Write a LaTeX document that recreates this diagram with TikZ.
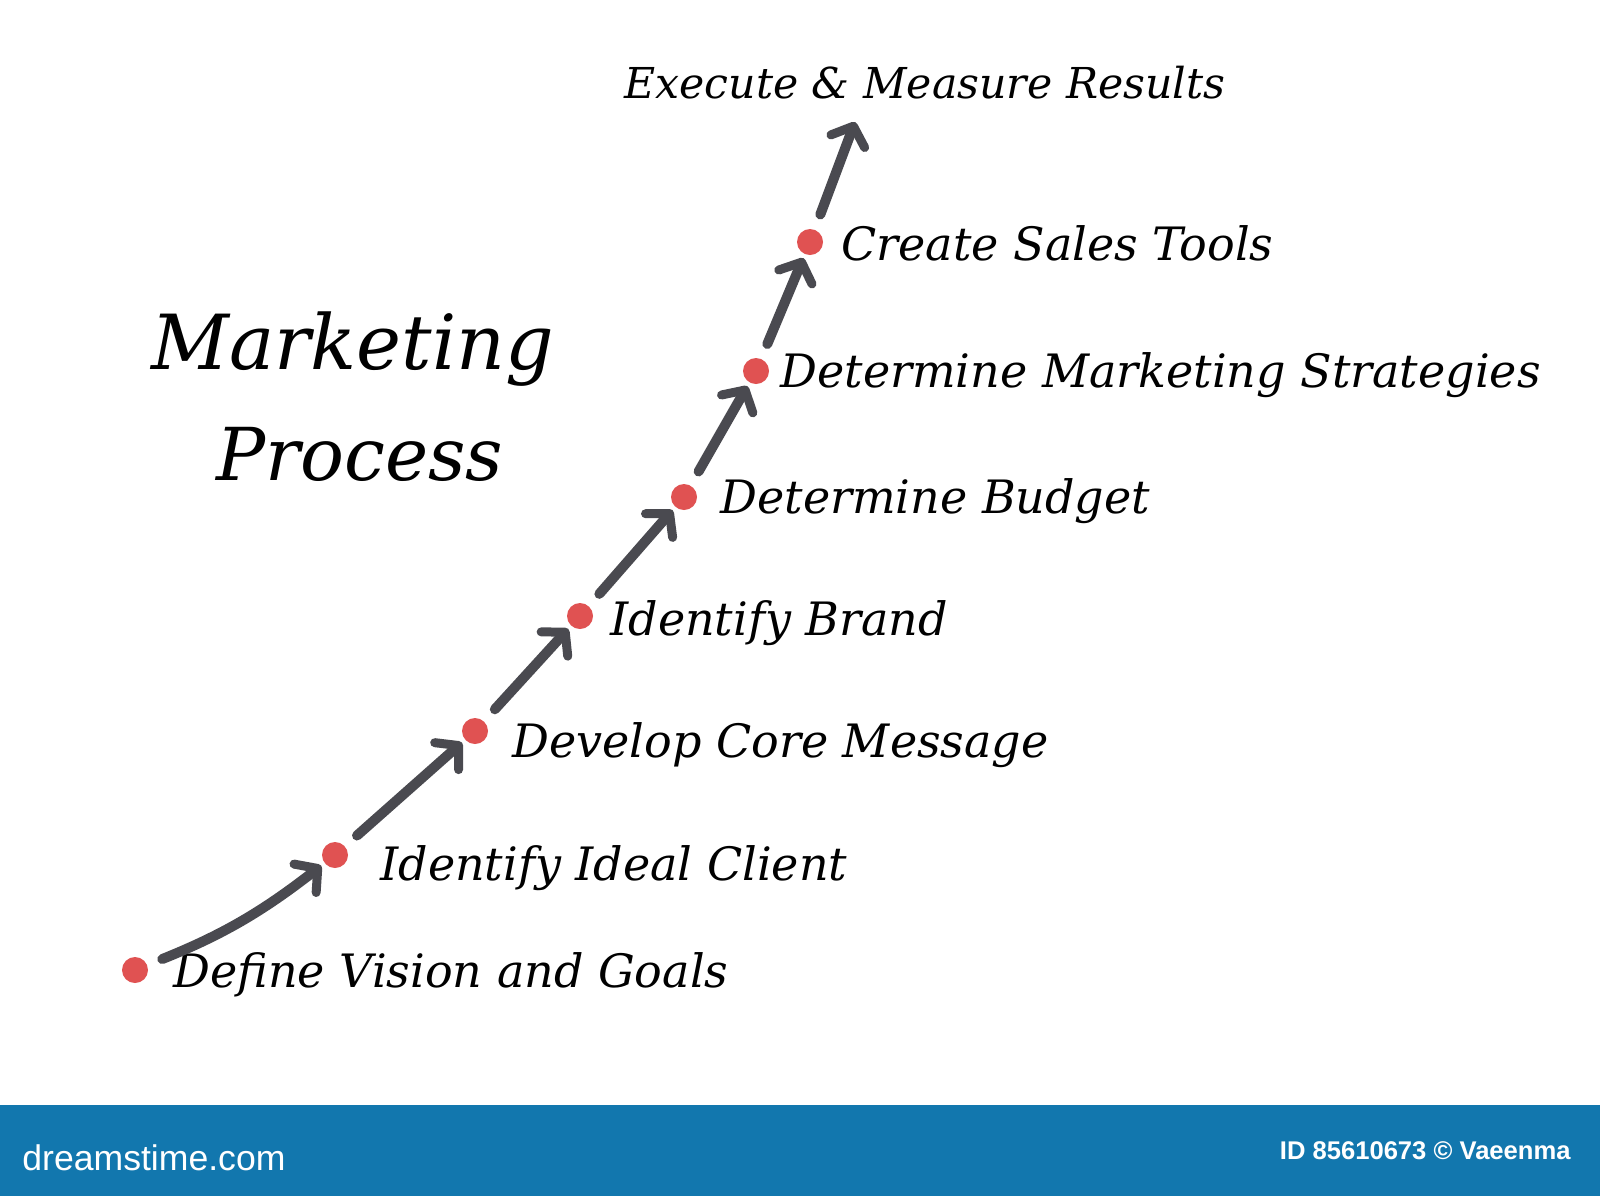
\documentclass[tikz,border=0pt]{standalone}
\usepackage{fontspec}
\usetikzlibrary{arrows.meta}
\newfontfamily\hand{DejaVu Serif}
\newfontfamily\bannerfont{Liberation Sans}
\definecolor{dotred}{HTML}{E05252}
\definecolor{arrowgray}{HTML}{4A4A50}
\definecolor{bannerblue}{HTML}{1277AE}
\begin{document}
\begin{tikzpicture}[x=0.5pt,y=-0.5pt,
  dot/.style={circle,fill=dotred,minimum size=13pt,inner sep=0pt},
  lbl/.style={anchor=base west,inner sep=0pt,font=\hand\itshape\fontsize{23}{27}\selectfont},
  ttl/.style={anchor=base west,inner sep=0pt,font=\hand\itshape\fontsize{38}{42}\selectfont},
  flow/.style={draw=arrowgray,line width=5pt,line cap=round,
    -{Straight Barb[length=8pt,width=18pt,line width=4.5pt,round]},
    shorten <=8pt,shorten >=2pt},
  banner/.style={text=white,inner sep=0pt,font=\bannerfont\bfseries\fontsize{12.8}{15}\selectfont}]
\useasboundingbox (0,0) rectangle (1600,1196);
\fill[white] (0,0) rectangle (1600,1105);
\fill[bannerblue] (0,1105) rectangle (1600,1196);

% title
\node[ttl] (t1) at (151,369) {Marketing};
\node[ttl,font=\hand\itshape\fontsize{36.5}{40}\selectfont] (t2) at (216,480) {Process};

% dots
\node[dot] (d1) at (135,970) {};
\node[dot] (d2) at (335,855) {};
\node[dot] (d3) at (475,731) {};
\node[dot] (d4) at (580,616) {};
\node[dot] (d5) at (684,497) {};
\node[dot] (d6) at (756,371) {};
\node[dot] (d7) at (810,242) {};
\coordinate (top) at (855,122);

% labels
\node[lbl] (l1) at (173,987) {Define Vision and Goals};
\node[lbl] (l2) at (380,880) {Identify Ideal Client};
\node[lbl] (l3) at (512,757) {Develop Core Message};
\node[lbl] (l4) at (610,635) {Identify Brand};
\node[lbl] (l5) at (720,513) {Determine Budget};
\node[lbl] (l6) at (780,387) {Determine Marketing Strategies};
\node[lbl] (l7) at (841,260) {Create Sales Tools};
\node[lbl,font=\hand\itshape\fontsize{21.3}{25}\selectfont] (l8) at (624,98) {Execute \& Measure Results};

% arrows
\draw[flow] (d1) to[bend right=8] (d2);
\draw[flow] (d2) -- (d3);
\draw[flow] (d3) -- (d4);
\draw[flow] (d4) -- (d5);
\draw[flow] (d5) -- (d6);
\draw[flow] (d6) -- (d7);
\draw[flow,shorten >=0pt] (d7) -- (top);

% banner
\node[banner,anchor=west,font=\bannerfont\fontsize{17.8}{20}\selectfont] (b1) at (22,1158) {dreamstime.com};
\node[banner,anchor=east] (b2) at (1571,1151) {ID 85610673 © Vaeenma};
\end{tikzpicture}
\end{document}
